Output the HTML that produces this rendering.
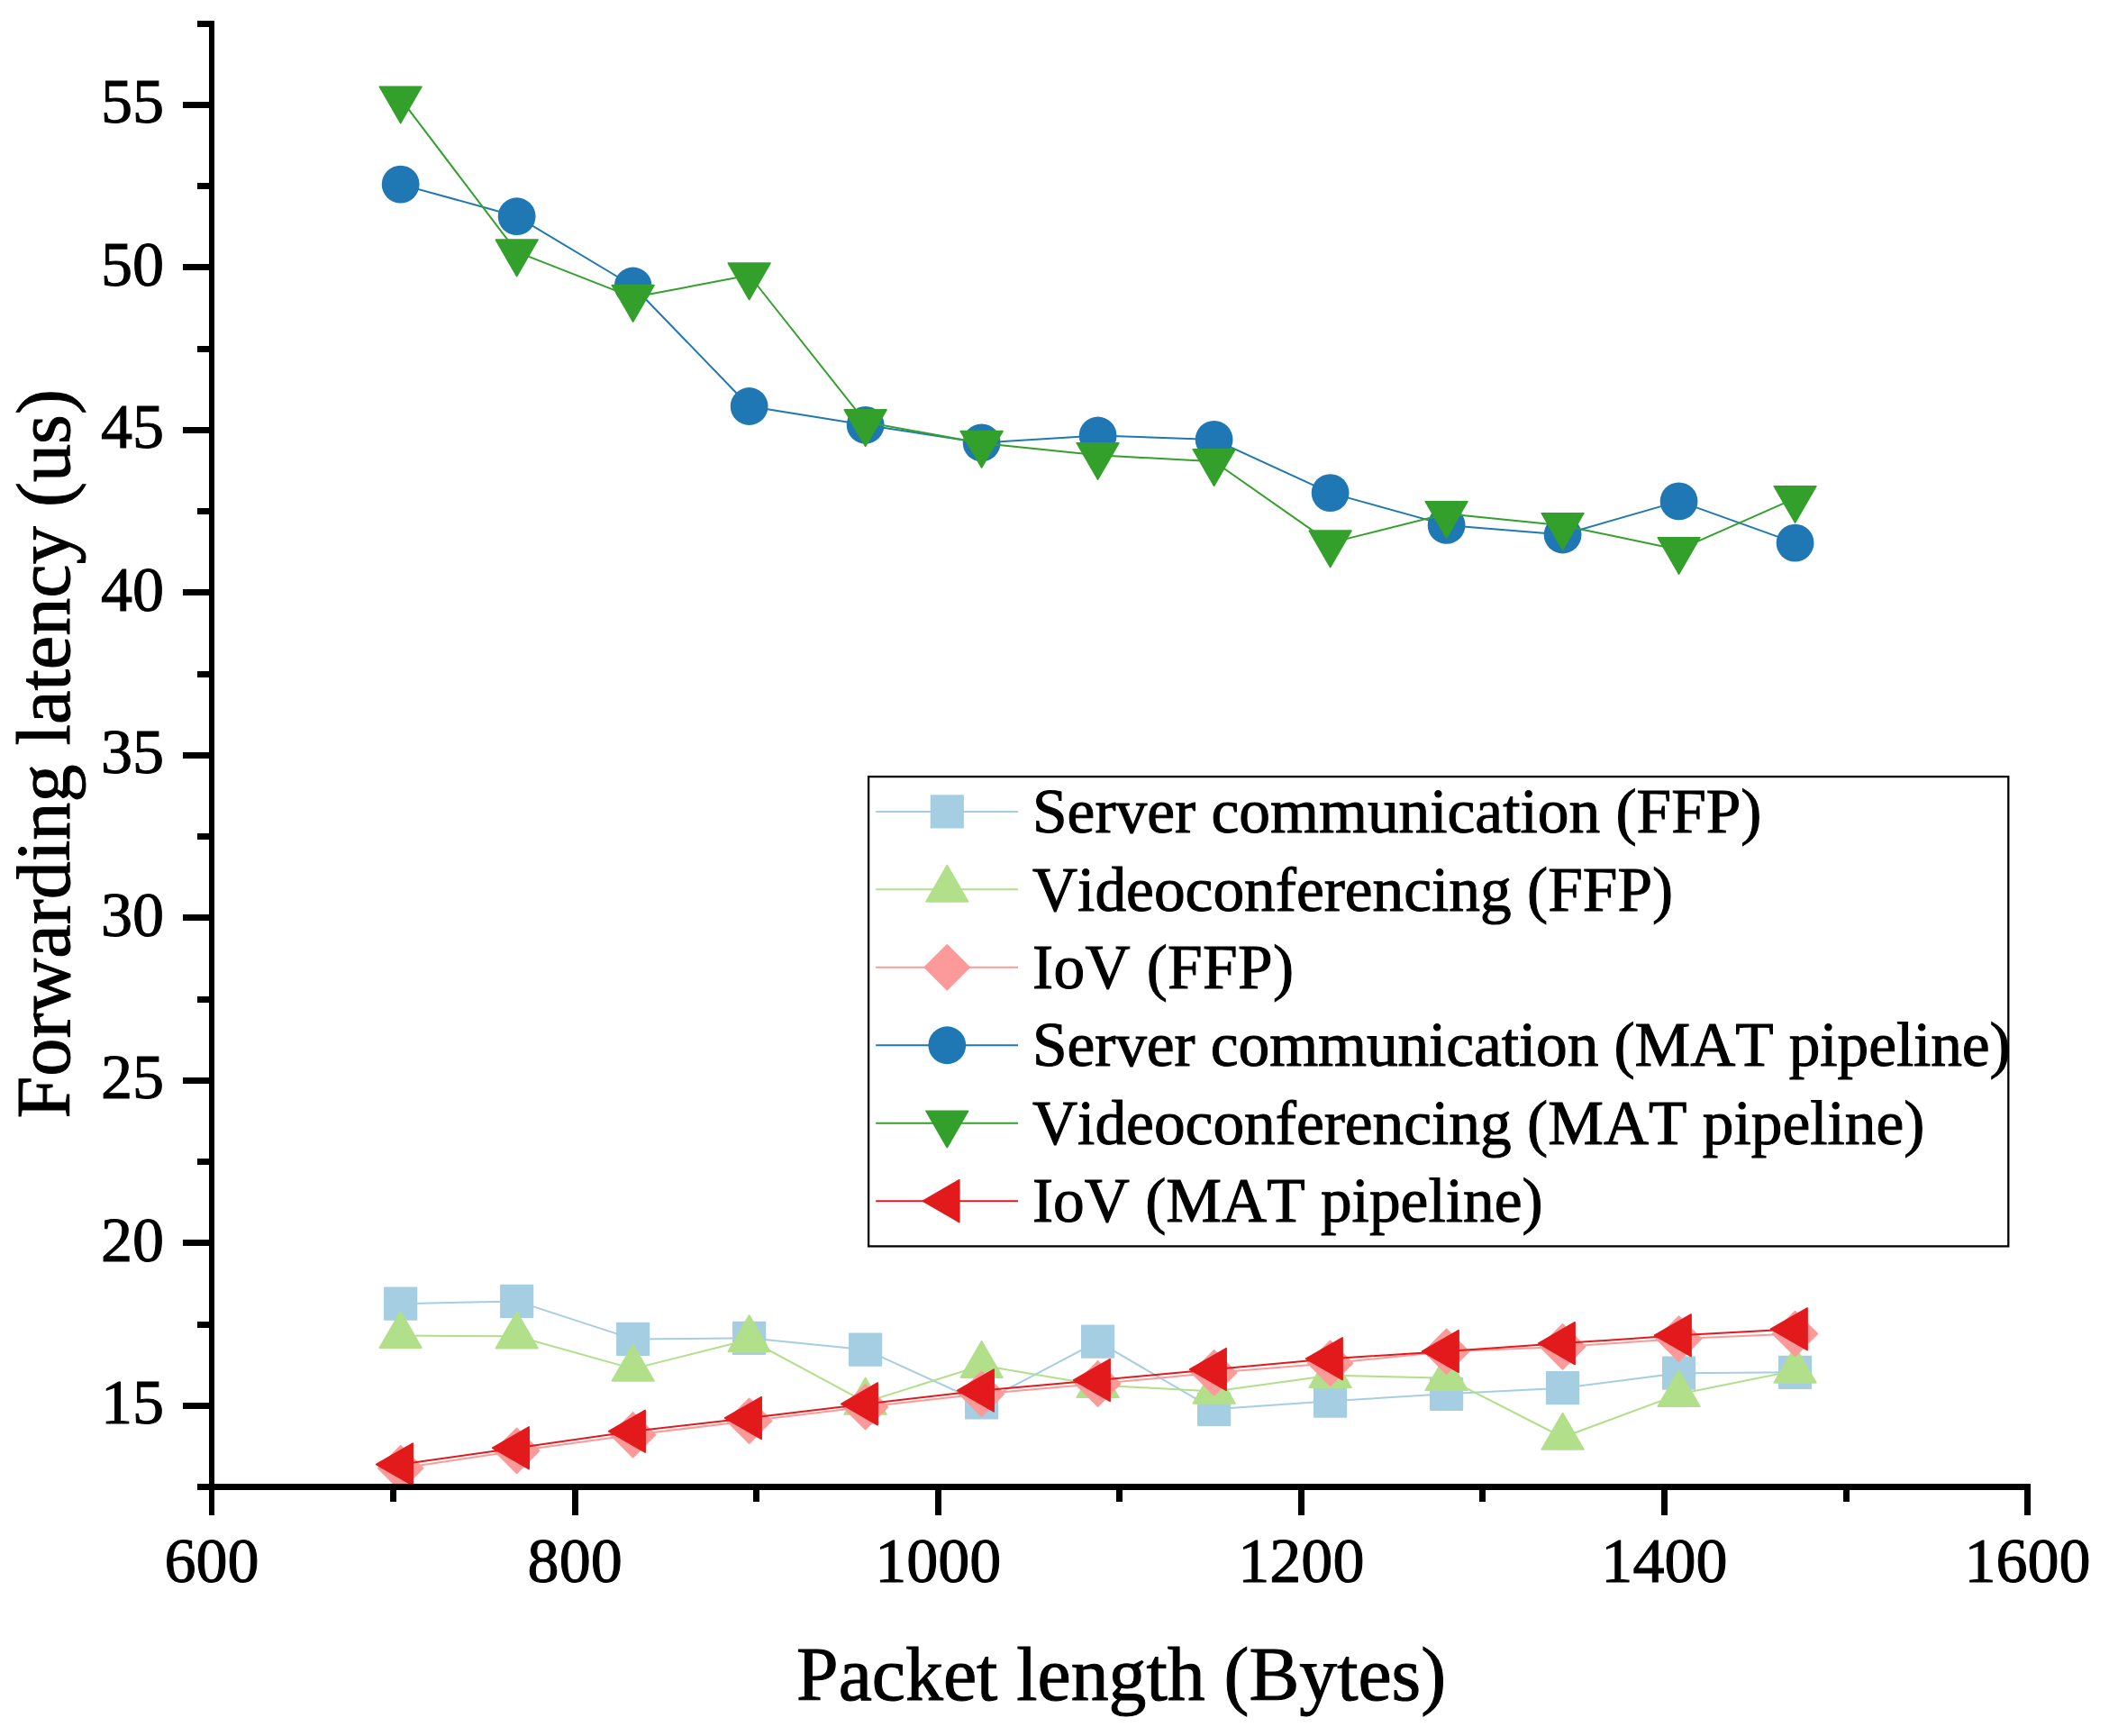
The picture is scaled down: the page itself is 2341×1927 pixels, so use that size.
<!DOCTYPE html>
<html lang="en"><head><meta charset="utf-8"><title>Forwarding latency vs packet length</title>
<style>
html,body{margin:0;padding:0;background:#fff;}
body{width:2341px;height:1927px;overflow:hidden;}
svg{display:block;}
text{font-family:"Liberation Serif",serif;fill:#000;font-kerning:none;font-variant-ligatures:none;stroke:#000;stroke-width:1px;}
.tick{font-size:70.1px;}
.leg{font-size:69.4px;}
.title{font-size:83.75px;}
</style></head><body>
<svg width="2341" height="1927" viewBox="0 0 2341 1927">
<rect width="2341" height="1927" fill="#fff"/>
<defs><clipPath id="plotclip"><rect x="235" y="26" width="2016" height="1625"/></clipPath></defs>
<g clip-path="url(#plotclip)" stroke-linejoin="round" stroke-linecap="round">
<g><polyline points="444.66,1447.2 573.65,1444.4 702.65,1486.4 831.64,1485.3 960.63,1498.2 1089.62,1557 1218.61,1489.2 1347.61,1564.3 1476.6,1555.2 1605.59,1547.3 1734.58,1540.7 1863.57,1524.2 1992.57,1523.3" fill="none" stroke="#a6cee3" stroke-width="2"/>
<rect x="426.86" y="1429.4" width="35.6" height="35.6" fill="#a6cee3" stroke="#a6cee3" stroke-width="1.6" stroke-linejoin="round"/><rect x="555.85" y="1426.6" width="35.6" height="35.6" fill="#a6cee3" stroke="#a6cee3" stroke-width="1.6" stroke-linejoin="round"/><rect x="684.85" y="1468.6" width="35.6" height="35.6" fill="#a6cee3" stroke="#a6cee3" stroke-width="1.6" stroke-linejoin="round"/><rect x="813.84" y="1467.5" width="35.6" height="35.6" fill="#a6cee3" stroke="#a6cee3" stroke-width="1.6" stroke-linejoin="round"/><rect x="942.83" y="1480.4" width="35.6" height="35.6" fill="#a6cee3" stroke="#a6cee3" stroke-width="1.6" stroke-linejoin="round"/><rect x="1071.82" y="1539.2" width="35.6" height="35.6" fill="#a6cee3" stroke="#a6cee3" stroke-width="1.6" stroke-linejoin="round"/><rect x="1200.81" y="1471.4" width="35.6" height="35.6" fill="#a6cee3" stroke="#a6cee3" stroke-width="1.6" stroke-linejoin="round"/><rect x="1329.81" y="1546.5" width="35.6" height="35.6" fill="#a6cee3" stroke="#a6cee3" stroke-width="1.6" stroke-linejoin="round"/><rect x="1458.8" y="1537.4" width="35.6" height="35.6" fill="#a6cee3" stroke="#a6cee3" stroke-width="1.6" stroke-linejoin="round"/><rect x="1587.79" y="1529.5" width="35.6" height="35.6" fill="#a6cee3" stroke="#a6cee3" stroke-width="1.6" stroke-linejoin="round"/><rect x="1716.78" y="1522.9" width="35.6" height="35.6" fill="#a6cee3" stroke="#a6cee3" stroke-width="1.6" stroke-linejoin="round"/><rect x="1845.77" y="1506.4" width="35.6" height="35.6" fill="#a6cee3" stroke="#a6cee3" stroke-width="1.6" stroke-linejoin="round"/><rect x="1974.77" y="1505.5" width="35.6" height="35.6" fill="#a6cee3" stroke="#a6cee3" stroke-width="1.6" stroke-linejoin="round"/></g>
<g><polyline points="444.66,1482.6 573.65,1483.2 702.65,1519.4 831.64,1487 960.63,1556.4 1089.62,1515.6 1218.61,1537.6 1347.61,1544.4 1476.6,1526.7 1605.59,1529.7 1734.58,1595.5 1863.57,1547.6 1992.57,1521.4" fill="none" stroke="#b2df8a" stroke-width="2"/>
<polygon points="444.66,1455.6 468.04,1496.1 421.28,1496.1" fill="#b2df8a" stroke="#b2df8a" stroke-width="1.6" stroke-linejoin="round"/><polygon points="573.65,1456.2 597.04,1496.7 550.27,1496.7" fill="#b2df8a" stroke="#b2df8a" stroke-width="1.6" stroke-linejoin="round"/><polygon points="702.65,1492.4 726.03,1532.9 679.26,1532.9" fill="#b2df8a" stroke="#b2df8a" stroke-width="1.6" stroke-linejoin="round"/><polygon points="831.64,1460 855.02,1500.5 808.26,1500.5" fill="#b2df8a" stroke="#b2df8a" stroke-width="1.6" stroke-linejoin="round"/><polygon points="960.63,1529.4 984.01,1569.9 937.25,1569.9" fill="#b2df8a" stroke="#b2df8a" stroke-width="1.6" stroke-linejoin="round"/><polygon points="1089.62,1488.6 1113,1529.1 1066.24,1529.1" fill="#b2df8a" stroke="#b2df8a" stroke-width="1.6" stroke-linejoin="round"/><polygon points="1218.61,1510.6 1242,1551.1 1195.23,1551.1" fill="#b2df8a" stroke="#b2df8a" stroke-width="1.6" stroke-linejoin="round"/><polygon points="1347.61,1517.4 1370.99,1557.9 1324.22,1557.9" fill="#b2df8a" stroke="#b2df8a" stroke-width="1.6" stroke-linejoin="round"/><polygon points="1476.6,1499.7 1499.98,1540.2 1453.22,1540.2" fill="#b2df8a" stroke="#b2df8a" stroke-width="1.6" stroke-linejoin="round"/><polygon points="1605.59,1502.7 1628.97,1543.2 1582.21,1543.2" fill="#b2df8a" stroke="#b2df8a" stroke-width="1.6" stroke-linejoin="round"/><polygon points="1734.58,1568.5 1757.96,1609 1711.2,1609" fill="#b2df8a" stroke="#b2df8a" stroke-width="1.6" stroke-linejoin="round"/><polygon points="1863.57,1520.6 1886.96,1561.1 1840.19,1561.1" fill="#b2df8a" stroke="#b2df8a" stroke-width="1.6" stroke-linejoin="round"/><polygon points="1992.57,1494.4 2015.95,1534.9 1969.18,1534.9" fill="#b2df8a" stroke="#b2df8a" stroke-width="1.6" stroke-linejoin="round"/></g>
<g><polyline points="444.66,1629.8 573.65,1610.4 702.65,1592.8 831.64,1577.2 960.63,1561.8 1089.62,1547.3 1218.61,1536.1 1347.61,1523.8 1476.6,1513.2 1605.59,1500.3 1734.58,1494.9 1863.57,1486.1 1992.57,1480.5" fill="none" stroke="#fb9a99" stroke-width="2"/>
<polygon points="444.66,1604.83 469.63,1629.8 444.66,1654.77 419.69,1629.8" fill="#fb9a99" stroke="#fb9a99" stroke-width="1.6" stroke-linejoin="round"/><polygon points="573.65,1585.43 598.62,1610.4 573.65,1635.37 548.69,1610.4" fill="#fb9a99" stroke="#fb9a99" stroke-width="1.6" stroke-linejoin="round"/><polygon points="702.65,1567.83 727.61,1592.8 702.65,1617.77 677.68,1592.8" fill="#fb9a99" stroke="#fb9a99" stroke-width="1.6" stroke-linejoin="round"/><polygon points="831.64,1552.23 856.61,1577.2 831.64,1602.17 806.67,1577.2" fill="#fb9a99" stroke="#fb9a99" stroke-width="1.6" stroke-linejoin="round"/><polygon points="960.63,1536.83 985.6,1561.8 960.63,1586.77 935.66,1561.8" fill="#fb9a99" stroke="#fb9a99" stroke-width="1.6" stroke-linejoin="round"/><polygon points="1089.62,1522.33 1114.59,1547.3 1089.62,1572.27 1064.65,1547.3" fill="#fb9a99" stroke="#fb9a99" stroke-width="1.6" stroke-linejoin="round"/><polygon points="1218.61,1511.13 1243.58,1536.1 1218.61,1561.07 1193.65,1536.1" fill="#fb9a99" stroke="#fb9a99" stroke-width="1.6" stroke-linejoin="round"/><polygon points="1347.61,1498.83 1372.57,1523.8 1347.61,1548.77 1322.64,1523.8" fill="#fb9a99" stroke="#fb9a99" stroke-width="1.6" stroke-linejoin="round"/><polygon points="1476.6,1488.23 1501.57,1513.2 1476.6,1538.17 1451.63,1513.2" fill="#fb9a99" stroke="#fb9a99" stroke-width="1.6" stroke-linejoin="round"/><polygon points="1605.59,1475.33 1630.56,1500.3 1605.59,1525.27 1580.62,1500.3" fill="#fb9a99" stroke="#fb9a99" stroke-width="1.6" stroke-linejoin="round"/><polygon points="1734.58,1469.93 1759.55,1494.9 1734.58,1519.87 1709.61,1494.9" fill="#fb9a99" stroke="#fb9a99" stroke-width="1.6" stroke-linejoin="round"/><polygon points="1863.57,1461.13 1888.54,1486.1 1863.57,1511.07 1838.61,1486.1" fill="#fb9a99" stroke="#fb9a99" stroke-width="1.6" stroke-linejoin="round"/><polygon points="1992.57,1455.53 2017.53,1480.5 1992.57,1505.47 1967.6,1480.5" fill="#fb9a99" stroke="#fb9a99" stroke-width="1.6" stroke-linejoin="round"/></g>
<g><polyline points="444.66,204.6 573.65,240.2 702.65,317.5 831.64,451 960.63,471.8 1089.62,491.4 1218.61,483.5 1347.61,487.9 1476.6,547.1 1605.59,582.9 1734.58,593.5 1863.57,556.4 1992.57,602.6" fill="none" stroke="#1f78b4" stroke-width="2"/>
<circle cx="444.66" cy="204.6" r="20.9" fill="#1f78b4"/><circle cx="573.65" cy="240.2" r="20.9" fill="#1f78b4"/><circle cx="702.65" cy="317.5" r="20.9" fill="#1f78b4"/><circle cx="831.64" cy="451" r="20.9" fill="#1f78b4"/><circle cx="960.63" cy="471.8" r="20.9" fill="#1f78b4"/><circle cx="1089.62" cy="491.4" r="20.9" fill="#1f78b4"/><circle cx="1218.61" cy="483.5" r="20.9" fill="#1f78b4"/><circle cx="1347.61" cy="487.9" r="20.9" fill="#1f78b4"/><circle cx="1476.6" cy="547.1" r="20.9" fill="#1f78b4"/><circle cx="1605.59" cy="582.9" r="20.9" fill="#1f78b4"/><circle cx="1734.58" cy="593.5" r="20.9" fill="#1f78b4"/><circle cx="1863.57" cy="556.4" r="20.9" fill="#1f78b4"/><circle cx="1992.57" cy="602.6" r="20.9" fill="#1f78b4"/></g>
<g><polyline points="444.66,109.7 573.65,279.6 702.65,330.1 831.64,305.5 960.63,468.4 1089.62,492 1218.61,505.2 1347.61,512.3 1476.6,602.6 1605.59,570.2 1734.58,583.2 1863.57,610.2 1992.57,553.2" fill="none" stroke="#33a02c" stroke-width="2"/>
<polygon points="421.28,96.2 468.04,96.2 444.66,136.7" fill="#33a02c" stroke="#33a02c" stroke-width="1.6" stroke-linejoin="round"/><polygon points="550.27,266.1 597.04,266.1 573.65,306.6" fill="#33a02c" stroke="#33a02c" stroke-width="1.6" stroke-linejoin="round"/><polygon points="679.26,316.6 726.03,316.6 702.65,357.1" fill="#33a02c" stroke="#33a02c" stroke-width="1.6" stroke-linejoin="round"/><polygon points="808.26,292 855.02,292 831.64,332.5" fill="#33a02c" stroke="#33a02c" stroke-width="1.6" stroke-linejoin="round"/><polygon points="937.25,454.9 984.01,454.9 960.63,495.4" fill="#33a02c" stroke="#33a02c" stroke-width="1.6" stroke-linejoin="round"/><polygon points="1066.24,478.5 1113,478.5 1089.62,519" fill="#33a02c" stroke="#33a02c" stroke-width="1.6" stroke-linejoin="round"/><polygon points="1195.23,491.7 1242,491.7 1218.61,532.2" fill="#33a02c" stroke="#33a02c" stroke-width="1.6" stroke-linejoin="round"/><polygon points="1324.22,498.8 1370.99,498.8 1347.61,539.3" fill="#33a02c" stroke="#33a02c" stroke-width="1.6" stroke-linejoin="round"/><polygon points="1453.22,589.1 1499.98,589.1 1476.6,629.6" fill="#33a02c" stroke="#33a02c" stroke-width="1.6" stroke-linejoin="round"/><polygon points="1582.21,556.7 1628.97,556.7 1605.59,597.2" fill="#33a02c" stroke="#33a02c" stroke-width="1.6" stroke-linejoin="round"/><polygon points="1711.2,569.7 1757.96,569.7 1734.58,610.2" fill="#33a02c" stroke="#33a02c" stroke-width="1.6" stroke-linejoin="round"/><polygon points="1840.19,596.7 1886.96,596.7 1863.57,637.2" fill="#33a02c" stroke="#33a02c" stroke-width="1.6" stroke-linejoin="round"/><polygon points="1969.18,539.7 2015.95,539.7 1992.57,580.2" fill="#33a02c" stroke="#33a02c" stroke-width="1.6" stroke-linejoin="round"/></g>
<g><polyline points="444.66,1625.5 573.65,1607.3 702.65,1588.7 831.64,1574 960.63,1558.4 1089.62,1543.5 1218.61,1532 1347.61,1520 1476.6,1508.2 1605.59,1500 1734.58,1491.1 1863.57,1482.3 1992.57,1475.3" fill="none" stroke="#e31a1c" stroke-width="2"/>
<polygon points="417.66,1625.5 458.16,1602.12 458.16,1648.88" fill="#e31a1c" stroke="#e31a1c" stroke-width="1.6" stroke-linejoin="round"/><polygon points="546.65,1607.3 587.15,1583.92 587.15,1630.68" fill="#e31a1c" stroke="#e31a1c" stroke-width="1.6" stroke-linejoin="round"/><polygon points="675.65,1588.7 716.15,1565.32 716.15,1612.08" fill="#e31a1c" stroke="#e31a1c" stroke-width="1.6" stroke-linejoin="round"/><polygon points="804.64,1574 845.14,1550.62 845.14,1597.38" fill="#e31a1c" stroke="#e31a1c" stroke-width="1.6" stroke-linejoin="round"/><polygon points="933.63,1558.4 974.13,1535.02 974.13,1581.78" fill="#e31a1c" stroke="#e31a1c" stroke-width="1.6" stroke-linejoin="round"/><polygon points="1062.62,1543.5 1103.12,1520.12 1103.12,1566.88" fill="#e31a1c" stroke="#e31a1c" stroke-width="1.6" stroke-linejoin="round"/><polygon points="1191.61,1532 1232.11,1508.62 1232.11,1555.38" fill="#e31a1c" stroke="#e31a1c" stroke-width="1.6" stroke-linejoin="round"/><polygon points="1320.61,1520 1361.11,1496.62 1361.11,1543.38" fill="#e31a1c" stroke="#e31a1c" stroke-width="1.6" stroke-linejoin="round"/><polygon points="1449.6,1508.2 1490.1,1484.82 1490.1,1531.58" fill="#e31a1c" stroke="#e31a1c" stroke-width="1.6" stroke-linejoin="round"/><polygon points="1578.59,1500 1619.09,1476.62 1619.09,1523.38" fill="#e31a1c" stroke="#e31a1c" stroke-width="1.6" stroke-linejoin="round"/><polygon points="1707.58,1491.1 1748.08,1467.72 1748.08,1514.48" fill="#e31a1c" stroke="#e31a1c" stroke-width="1.6" stroke-linejoin="round"/><polygon points="1836.57,1482.3 1877.07,1458.92 1877.07,1505.68" fill="#e31a1c" stroke="#e31a1c" stroke-width="1.6" stroke-linejoin="round"/><polygon points="1965.57,1475.3 2006.07,1451.92 2006.07,1498.68" fill="#e31a1c" stroke="#e31a1c" stroke-width="1.6" stroke-linejoin="round"/></g>
</g>
<g fill="#000" shape-rendering="crispEdges">
<rect x="232" y="23" width="6" height="1659"/>
<rect x="219" y="1647" width="2035" height="7"/>
<rect x="203" y="1557" width="32" height="7"/>
<rect x="219" y="1467" width="16" height="7"/>
<rect x="203" y="1376" width="32" height="7"/>
<rect x="219" y="1286" width="16" height="7"/>
<rect x="203" y="1196" width="32" height="7"/>
<rect x="219" y="1106" width="16" height="7"/>
<rect x="203" y="1015" width="32" height="7"/>
<rect x="219" y="925" width="16" height="7"/>
<rect x="203" y="835" width="32" height="7"/>
<rect x="219" y="745" width="16" height="7"/>
<rect x="203" y="654" width="32" height="7"/>
<rect x="219" y="564" width="16" height="7"/>
<rect x="203" y="474" width="32" height="7"/>
<rect x="219" y="384" width="16" height="7"/>
<rect x="203" y="293" width="32" height="7"/>
<rect x="219" y="203" width="16" height="7"/>
<rect x="203" y="113" width="32" height="7"/>
<rect x="219" y="23" width="16" height="7"/>
<rect x="433" y="1650" width="7" height="17"/>
<rect x="635" y="1650" width="7" height="32"/>
<rect x="836" y="1650" width="7" height="17"/>
<rect x="1038" y="1650" width="7" height="32"/>
<rect x="1239" y="1650" width="7" height="17"/>
<rect x="1441" y="1650" width="7" height="32"/>
<rect x="1642" y="1650" width="7" height="17"/>
<rect x="1844" y="1650" width="7" height="32"/>
<rect x="2046" y="1650" width="7" height="17"/>
<rect x="2247" y="1650" width="7" height="32"/>
</g>
<g class="tick">
<text x="182" y="1580.4" text-anchor="end">15</text>
<text x="182" y="1399.9" text-anchor="end">20</text>
<text x="182" y="1219.4" text-anchor="end">25</text>
<text x="182" y="1038.9" text-anchor="end">30</text>
<text x="182" y="858.4" text-anchor="end">35</text>
<text x="182" y="677.9" text-anchor="end">40</text>
<text x="182" y="497.4" text-anchor="end">45</text>
<text x="182" y="316.9" text-anchor="end">50</text>
<text x="182" y="136.4" text-anchor="end">55</text>
<text x="235.05" y="1755.9" text-anchor="middle">600</text>
<text x="638.15" y="1755.9" text-anchor="middle">800</text>
<text x="1041.25" y="1755.9" text-anchor="middle">1000</text>
<text x="1444.35" y="1755.9" text-anchor="middle">1200</text>
<text x="1847.45" y="1755.9" text-anchor="middle">1400</text>
<text x="2250.55" y="1755.9" text-anchor="middle">1600</text>
</g>
<text class="title" x="1244.6" y="1886.8" text-anchor="middle">Packet length (Bytes)</text>
<text class="title" style="font-size:84.25px" transform="translate(77.0,836.8) rotate(-90)" text-anchor="middle">Forwarding latency (us)</text>
<rect x="964.1" y="862.1" width="1265.2" height="521.3" fill="#fff" stroke="#000" stroke-width="2.3"/>
<line x1="972.2" y1="900.9" x2="1130" y2="900.9" stroke="#a6cee3" stroke-width="2"/>
<rect x="1033.5" y="883.1" width="35.6" height="35.6" fill="#a6cee3" stroke="#a6cee3" stroke-width="1.6" stroke-linejoin="round"/>
<text class="leg" x="1146" y="924.05">Server communication (FFP)</text>
<line x1="972.2" y1="987.35" x2="1130" y2="987.35" stroke="#b2df8a" stroke-width="2"/>
<polygon points="1051.3,960.35 1074.68,1000.85 1027.92,1000.85" fill="#b2df8a" stroke="#b2df8a" stroke-width="1.6" stroke-linejoin="round"/>
<text class="leg" x="1146" y="1010.5">Videoconferencing (FFP)</text>
<line x1="972.2" y1="1073.8" x2="1130" y2="1073.8" stroke="#fb9a99" stroke-width="2"/>
<polygon points="1051.3,1048.83 1076.27,1073.8 1051.3,1098.77 1026.33,1073.8" fill="#fb9a99" stroke="#fb9a99" stroke-width="1.6" stroke-linejoin="round"/>
<text class="leg" x="1146" y="1096.95" letter-spacing="0.35">IoV (FFP)</text>
<line x1="972.2" y1="1160.25" x2="1130" y2="1160.25" stroke="#1f78b4" stroke-width="2"/>
<circle cx="1051.3" cy="1160.25" r="20.9" fill="#1f78b4"/>
<text class="leg" x="1146" y="1183.4" letter-spacing="-0.09">Server communication (MAT pipeline)</text>
<line x1="972.2" y1="1246.7" x2="1130" y2="1246.7" stroke="#33a02c" stroke-width="2"/>
<polygon points="1027.92,1233.2 1074.68,1233.2 1051.3,1273.7" fill="#33a02c" stroke="#33a02c" stroke-width="1.6" stroke-linejoin="round"/>
<text class="leg" x="1146" y="1269.85">Videoconferencing (MAT pipeline)</text>
<line x1="972.2" y1="1333.15" x2="1130" y2="1333.15" stroke="#e31a1c" stroke-width="2"/>
<polygon points="1024.3,1333.15 1064.8,1309.77 1064.8,1356.53" fill="#e31a1c" stroke="#e31a1c" stroke-width="1.6" stroke-linejoin="round"/>
<text class="leg" x="1146" y="1356.3">IoV (MAT pipeline)</text>
</svg></body></html>
